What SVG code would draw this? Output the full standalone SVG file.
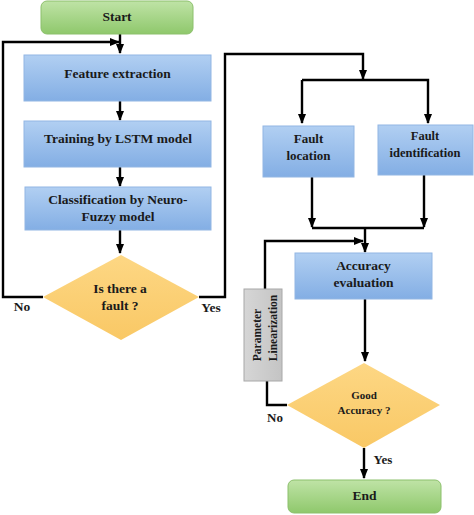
<svg xmlns="http://www.w3.org/2000/svg" width="474" height="515" viewBox="0 0 474 515">
<defs>
<linearGradient id="gGreen" x1="0" y1="0" x2="0" y2="1"><stop offset="0" stop-color="#bfe3a6"/><stop offset="1" stop-color="#8fc86c"/></linearGradient>
<linearGradient id="gBlue" x1="0" y1="0" x2="0" y2="1"><stop offset="0" stop-color="#b1cff2"/><stop offset="1" stop-color="#83aee4"/></linearGradient>
<linearGradient id="gGray" x1="0" y1="0" x2="1" y2="0"><stop offset="0" stop-color="#d6d6d6"/><stop offset="1" stop-color="#c4c4c4"/></linearGradient>
<linearGradient id="gGold" x1="0" y1="0" x2="0" y2="1"><stop offset="0" stop-color="#fdd784"/><stop offset="1" stop-color="#f9c865"/></linearGradient>
<marker id="ah" markerWidth="10" markerHeight="10" viewBox="0 0 10 10" refX="9" refY="5" orient="auto" markerUnits="userSpaceOnUse">
<path d="M0,1 L10,5 L0,9 z" fill="#000"/>
</marker>
</defs>
<style>
.t{font-family:"Liberation Serif","Times New Roman",serif;font-weight:bold;fill:#1a1a1a;text-anchor:middle}
.c{fill:none;stroke:#000;stroke-width:2.4}
.a{marker-end:url(#ah)}
.blue{fill:url(#gBlue);stroke:#92b6e3;stroke-width:1}
.green{fill:url(#gGreen);stroke:#8cc06c;stroke-width:1}
.gold{fill:url(#gGold);stroke:none}
.gray{fill:url(#gGray);stroke:#a8a8a8;stroke-width:1}
</style>
<rect width="474" height="515" fill="#fff"/>
<g id="connectors">
<path class="c a" d="M120,34 V53"/>
<path class="c a" d="M43,297 H3 V42 H119"/>
<path class="c a" d="M120,101 V120"/>
<path class="c a" d="M120,167 V186"/>
<path class="c a" d="M120,230 V253"/>
<path class="c a" d="M199,297 H225 V54 H363 V79"/>
<path class="c a" d="M302,80 H428 V123"/>
<path class="c a" d="M302,80 V123"/>
<path class="c a" d="M312,177 V227"/>
<path class="c a" d="M424,175 V227"/>
<path class="c" d="M312,228 H424"/>
<path class="c a" d="M365,228 V252"/>
<path class="c a" d="M265,289 V241 H363"/>
<path class="c a" d="M365,299 V361"/>
<path class="c" d="M287,405 H267 V381"/>
<path class="c a" d="M364,448 V478"/>
</g>
<g id="start"><rect class="green" x="41" y="1" width="152" height="33" rx="6"/><text class="t" x="117" y="21" font-size="13.5">Start</text></g>
<g id="feature"><rect class="blue" x="24" y="55" width="187" height="46"/><text class="t" x="117.5" y="77.5" font-size="13.5">Feature extraction</text></g>
<g id="training"><rect class="blue" x="24" y="121" width="187" height="46"/><text class="t" x="118" y="143" font-size="13.5">Training by LSTM model</text></g>
<g id="classification"><rect class="blue" x="25" y="187" width="186" height="43"/><text class="t" x="118" y="204" font-size="13.5">Classification by Neuro-</text><text class="t" x="118" y="221" font-size="13.5">Fuzzy model</text></g>
<g id="fault-q"><polygon class="gold" points="121,255 199,297 121,340 43,297"/><text class="t" x="120" y="293" font-size="13.5">Is there a</text><text class="t" x="120" y="310" font-size="13.5">fault ?</text></g>
<g id="lbl-no1"><text class="t" x="22" y="311" font-size="13.5">No</text></g>
<g id="lbl-yes1"><text class="t" x="211" y="312" font-size="13.5">Yes</text></g>
<g id="fault-location"><rect class="blue" x="263" y="126" width="91" height="51"/><text class="t" x="308.5" y="143" font-size="13">Fault</text><text class="t" x="308.5" y="160" font-size="13">location</text></g>
<g id="fault-identification"><rect class="blue" x="378" y="125" width="95" height="50"/><text class="t" x="425" y="140" font-size="12.5">Fault</text><text class="t" x="425" y="157" font-size="12.5">identification</text></g>
<g id="accuracy-eval"><rect class="blue" x="295" y="253" width="137" height="46"/><text class="t" x="363.5" y="270" font-size="13.5">Accuracy</text><text class="t" x="363.5" y="287" font-size="13.5">evaluation</text></g>
<g id="param-lin"><rect class="gray" x="244" y="289" width="38" height="92"/><text class="t" font-size="11.5" transform="translate(261,335) rotate(-90)">Parameter</text><text class="t" font-size="11.5" transform="translate(276.5,328) rotate(-90)">Linearization</text></g>
<g id="good-q"><polygon class="gold" points="364,363 440,405 364,448 287,405"/><text class="t" x="364" y="399" font-size="11">Good</text><text class="t" x="364" y="414" font-size="11">Accuracy ?</text></g>
<g id="lbl-no2"><text class="t" x="275" y="422" font-size="13">No</text></g>
<g id="lbl-yes2"><text class="t" x="383" y="464" font-size="13">Yes</text></g>
<g id="end"><rect class="green" x="288" y="480" width="153" height="33" rx="6"/><text class="t" x="364.5" y="500" font-size="13.5">End</text></g>
</svg>
